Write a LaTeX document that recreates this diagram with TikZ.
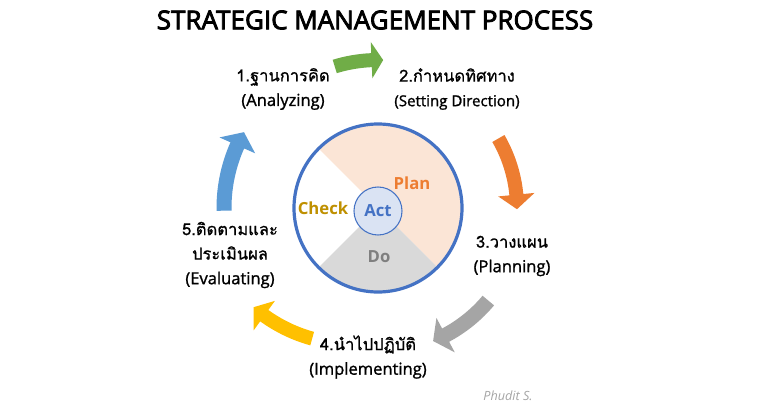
\documentclass[tikz,border=0pt]{standalone}
\usepackage{fontspec}
\setmainfont{Open Sans}
\newfontfamily\medfont{Open Sans}[FakeBold=1.3]
\newfontfamily\titlefont{Open Sans}[FakeBold=3.2]
\newfontfamily\thaifont[Script=Thai,FakeBold=0.9]{Loma}
\definecolor{ogreen}{HTML}{70AD47}
\definecolor{oorange}{HTML}{ED7D31}
\definecolor{ogray}{HTML}{A5A5A5}
\definecolor{oyellow}{HTML}{FFC000}
\definecolor{oblue}{HTML}{5B9BD5}
\definecolor{dblue}{HTML}{4472C4}
\definecolor{planfill}{HTML}{FBE5D6}
\definecolor{dofill}{HTML}{D9D9D9}
\definecolor{actfill}{HTML}{DAE3F3}
\definecolor{checkcol}{HTML}{BF9000}
\definecolor{docol}{HTML}{7F7F7F}
\newcommand{\blockarc}[8]{%
  \fill[#1] ([shift={(#2,#3)}]{#5}:{#4+#8}) arc[start angle={#5}, end angle={#6}, radius={#4+#8}]
    -- ([shift={(#2,#3)}]{#6}:{#4+2.6*#8}) -- ([shift={(#2,#3)}]{#7}:{#4})
    -- ([shift={(#2,#3)}]{#6}:{#4-2.6*#8}) -- ([shift={(#2,#3)}]{#6}:{#4-#8})
    arc[start angle={#6}, end angle={#5}, radius={#4-#8}] -- cycle;}
\tikzset{
  lbl/.style={font=\fontsize{12.4}{18.4}\selectfont\medfont, align=center, inner sep=0pt},
  pdca/.style={font=\fontsize{12.5}{14}\selectfont\bfseries, inner sep=0pt},
  titlestyle/.style={font=\fontsize{19.5}{22}\selectfont\titlefont, inner sep=0pt},
}
\begin{document}
\begin{tikzpicture}[x=0.75pt,y=-0.75pt]
\useasboundingbox (0,0) rectangle (764,410);
\fill[white] (0,0) rectangle (764,410);
\coordinate (C) at (378,208);
% PDCA sectors
\fill[planfill] (C) -- +(-135:84) arc[start angle=-135, end angle=45, radius=84] -- cycle;
\fill[dofill] (C) -- +(45:84) arc[start angle=45, end angle=135, radius=84] -- cycle;
\draw[dblue, line width=2.4pt] (C) circle[radius=84];
\node[circle, draw=dblue, line width=0.8pt, fill=actfill, minimum size=36pt, inner sep=0pt,
      font=\fontsize{12.5}{14}\selectfont\bfseries, text=dblue] (act) at (378,211) {Act};
\node[pdca, text=oorange] (plan) at (412,183) {Plan};
\node[pdca, text=checkcol] (check) at (323,208) {Check};
\node[pdca, text=docol] (do) at (379,257) {Do};
% curved arrows
\blockarc{ogreen}{378}{208}{148}{-107}{-92.5}{-88}{7}
\blockarc{oorange}{378}{208}{139}{-30}{-5.5}{0.5}{7}
\blockarc{ogray}{378}{208}{144}{40}{62}{67.5}{7.5}
\blockarc{oyellow}{352}{194}{150}{105.4}{125.8}{131}{7}
\blockarc{oblue}{378}{208}{154}{179}{204}{209.5}{7.5}
% title
\node[titlestyle] (title) at (375,20) {STRATEGIC MANAGEMENT PROCESS};
% labels
\node[lbl] (s1) at (283,89) {{\thaifont 1.ฐานการคิด}\\(Analyzing)};
\node[lbl] (s2) at (457,89) {{\thaifont 2.กำหนดทิศทาง}\\{\fontsize{11.3}{14}\selectfont(Setting Direction)}};
\node[lbl] (s3) at (512,256) {{\thaifont 3.วางแผน}\\(Planning)};
\node[lbl] (s4) at (368,357) {{\thaifont 4.นำไปปฏิบัติ}\\(Implementing)};
\node[lbl] (s5) at (230,255) {{\thaifont 5.ติดตามและ}\\{\thaifont ประเมินผล}\\(Evaluating)};
\node[font=\fontsize{9.5}{11}\selectfont\itshape, text=ogray, inner sep=0pt] (author) at (508,396) {Phudit S.};
\end{tikzpicture}
\end{document}
